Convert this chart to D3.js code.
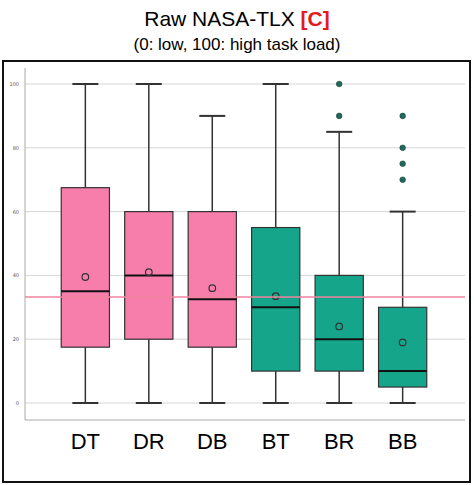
<!DOCTYPE html>
<html><head><meta charset="utf-8">
<script src="https://cdn.jsdelivr.net/npm/d3@7"></script>
<style>body{margin:0;background:#fff}</style>
</head><body>
<svg width="474" height="485"></svg>
<script>
// box plot values
const categories = ['DT', 'DR', 'DB', 'BT', 'BR', 'BB'];
const mins = [0, 0, 0, 0, 0, 0];
const q1s = [17.5, 20, 17.5, 10, 10, 5];
const medians = [35, 40, 32.5, 30, 20, 10];
const q3s = [67.5, 60, 60, 55, 40, 30];
const maxs = [100, 100, 90, 100, 85, 60];
const means = [39.5, 41, 36, 33.5, 24, 19];
const outliers = [[], [], [], [], [90, 100], [70, 75, 80, 90]];
const groupColors = ['#f77eab', '#f77eab', '#f77eab', '#14a58b', '#14a58b', '#14a58b'];
const yTicks = [0, 20, 40, 60, 80, 100];
const refLine = 33.2;

const svg = d3.select('svg');

svg.append('text').attr('x', 237).attr('y', 26).attr('text-anchor', 'middle')
  .attr('font-family', 'Liberation Sans, Arial').attr('font-size', 21)
  .html('Raw NASA-TLX <tspan fill="#e41a1c" font-weight="bold">[C]</tspan>');
svg.append('text').attr('x', 237).attr('y', 50).attr('text-anchor', 'middle')
  .attr('font-family', 'Liberation Sans, Arial').attr('font-size', 17)
  .text('(0: low, 100: high task load)');

svg.append('rect').attr('x', 3).attr('y', 61).attr('width', 467).attr('height', 421)
  .attr('fill', 'none').attr('stroke', '#111').attr('stroke-width', 2);

const x = d3.scaleBand().domain(categories).range([46, 442]).padding(0.24);
const y = d3.scaleLinear().domain([0, 100]).range([403, 84]);

// grid
svg.selectAll('.grid').data(yTicks).enter().append('line')
  .attr('x1', 25).attr('x2', 465).attr('y1', d => y(d)).attr('y2', d => y(d))
  .attr('stroke', '#d6d6d6');
svg.selectAll('.ytick').data(yTicks).enter().append('text')
  .attr('x', 19).attr('y', d => y(d) + 2).attr('text-anchor', 'end')
  .attr('font-family', 'DejaVu Sans').attr('font-size', 5).attr('fill', '#555')
  .text(d => d);
svg.append('line').attr('x1', 25).attr('x2', 25).attr('y1', 68).attr('y2', 420).attr('stroke', '#aaa');
svg.append('line').attr('x1', 25).attr('x2', 465).attr('y1', 420).attr('y2', 420).attr('stroke', '#aaa');

const g = svg.selectAll('.box').data(categories).enter().append('g');
const cx = (d) => x(d) + x.bandwidth() / 2;
const st = '#333';

g.append('line').attr('x1', cx).attr('x2', cx)
  .attr('y1', (d, i) => y(maxs[i])).attr('y2', (d, i) => y(mins[i]))
  .attr('stroke', st).attr('stroke-width', 1.5);
[maxs, mins].forEach(arr => {
  g.append('line').attr('x1', d => cx(d) - 13).attr('x2', d => cx(d) + 13)
    .attr('y1', (d, i) => y(arr[i])).attr('y2', (d, i) => y(arr[i]))
    .attr('stroke', st).attr('stroke-width', 2);
});
g.append('rect').attr('x', d => x(d)).attr('width', x.bandwidth())
  .attr('y', (d, i) => y(q3s[i])).attr('height', (d, i) => y(q1s[i]) - y(q3s[i]))
  .attr('fill', (d, i) => groupColors[i]).attr('stroke', st).attr('stroke-width', 1.2);
g.append('line').attr('x1', d => x(d)).attr('x2', d => x(d) + x.bandwidth())
  .attr('y1', (d, i) => y(medians[i])).attr('y2', (d, i) => y(medians[i]))
  .attr('stroke', '#111').attr('stroke-width', 2);
g.append('circle').attr('cx', cx).attr('cy', (d, i) => y(means[i])).attr('r', 3.3)
  .attr('fill', 'none').attr('stroke', '#333').attr('stroke-width', 1.2);
g.each(function (d, i) {
  d3.select(this).selectAll('.out').data(outliers[i]).enter().append('circle')
    .attr('cx', cx(d)).attr('cy', v => y(v)).attr('r', 2.8)
    .attr('fill', '#1f6b5c').attr('stroke', '#0f3d34').attr('stroke-width', 0.6);
});

svg.append('line').attr('x1', 25).attr('x2', 465).attr('y1', y(refLine)).attr('y2', y(refLine))
  .attr('stroke', '#f0859e').attr('stroke-width', 1.5);

g.append('text').attr('x', cx).attr('y', 449).attr('text-anchor', 'middle')
  .attr('font-family', 'Liberation Sans, Arial').attr('font-size', 22)
  .text(d => d);
</script>
</body></html>
